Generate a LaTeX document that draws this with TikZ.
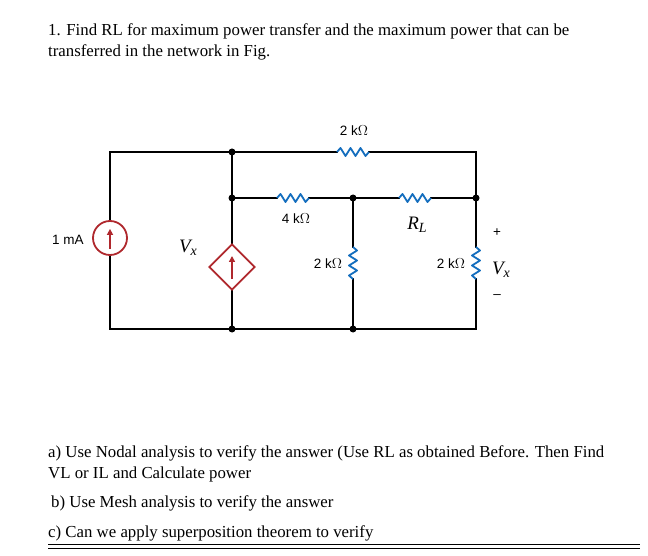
\documentclass[tikz,border=0pt]{standalone}
\usepackage{fontspec}
\setmainfont{Liberation Serif}
\newfontfamily\sansf{Liberation Sans}
\usetikzlibrary{shapes.geometric,arrows.meta}
\definecolor{resblue}{RGB}{20,110,190}
\definecolor{srcred}{RGB}{175,40,45}
\begin{document}
\begin{tikzpicture}[x=1pt,y=-1pt,
  wire/.style={line width=2.4pt,black},
  dot/.style={circle,fill=black,inner sep=0pt,minimum size=7pt},
  lbl/.style={font=\sansf\fontsize{13.5}{14}\selectfont,inner sep=1pt},
  var/.style={font=\fontsize{19}{19}\selectfont\itshape,inner sep=1pt},
  txt/.style={font=\fontsize{16.8}{19}\selectfont,anchor=base west,inner sep=0pt},
  res/.style={draw=resblue,line width=1.8pt,line join=round},
  src/.style={draw=srcred,line width=1.8pt,fill=white}]
\useasboundingbox (0,0) rectangle (648,556);
\node[txt] (t1) at (48,36) {1. Find RL for maximum power transfer and the maximum power that can be};
\node[txt] (t2) at (48,57) {transferred in the network in Fig.};
\node[txt] (ta) at (48,457) {a) Use Nodal analysis to verify the answer (Use RL as obtained Before. Then Find};
\node[txt] (tb) at (48,478) {VL or IL and Calculate power};
\node[txt] (tc) at (51,507) {b) Use Mesh analysis to verify the answer};
\node[txt] (td) at (48,537) {c) Can we apply superposition theorem to verify};
\coordinate (r1) at (48,544); \coordinate (r2) at (640,544);
\coordinate (r3) at (48,548); \coordinate (r4) at (640,548);
\draw[line width=0.9pt] (r1) -- (r2) (r3) -- (r4);
% nodes
\coordinate (TL) at (110,152); \coordinate (TA) at (232,152); \coordinate (TR) at (476,152);
\coordinate (MA) at (232,198); \coordinate (MB) at (353,198); \coordinate (MR) at (476,198);
\coordinate (BL) at (110,329); \coordinate (BA) at (232,329); \coordinate (BB) at (353,329); \coordinate (BR) at (476,329);
% wires
\draw[wire] (TR) -- (TL) -- (BL) -- (BR) -- cycle;
\draw[wire] (TA) -- (BA);
\draw[wire] (MA) -- (MR);
\draw[wire] (MB) -- (BB);
% horizontal resistors
\foreach \cx/\cy in {353/152,293/198,415/198}{
  \fill[white] (\cx-15,\cy-5) rectangle (\cx+15,\cy+5);
  \draw[res] (\cx-16,\cy) -- (\cx-12.5,\cy-4) -- (\cx-7.5,\cy+4) -- (\cx-2.5,\cy-4) -- (\cx+2.5,\cy+4) -- (\cx+7.5,\cy-4) -- (\cx+12.5,\cy+4) -- (\cx+16,\cy);
}
% vertical resistors
\foreach \cx/\cy in {353/263,476/263}{
  \fill[white] (\cx-5,\cy-15) rectangle (\cx+5,\cy+15);
  \draw[res] (\cx,\cy-16) -- (\cx+4,\cy-12.5) -- (\cx-4,\cy-7.5) -- (\cx+4,\cy-2.5) -- (\cx-4,\cy+2.5) -- (\cx+4,\cy+7.5) -- (\cx-4,\cy+12.5) -- (\cx,\cy+16);
}
% sources
\node[src,circle,minimum size=34pt,inner sep=0pt] (s1) at (110,238) {};
\draw[srcred,line width=1.8pt,-{Triangle[length=6pt,width=6pt]}] (s1.south) ++(0,-7) -- ++(0,-20);
\node[src,diamond,minimum size=46pt,inner sep=0pt] (s2) at (232,267) {};
\draw[srcred,line width=1.8pt,-{Triangle[length=6pt,width=6pt]}] (s2.center) ++(0,12) -- ++(0,-23);
\foreach \p in {TA,MA,MB,MR,BA,BB} \node[dot] at (\p) {};
% labels
\node[lbl] (l1) at (68,240) {1 mA};
\node[var] (lv) at (188,248) {V\raisebox{-0.35ex}{\fontsize{14}{14}\selectfont x}};
\node[lbl] (l2) at (354,131) {2 k$\Omega$};
\node[lbl] (l3) at (296,219) {4 k$\Omega$};
\node[var] (l4) at (417,225) {R\raisebox{-0.35ex}{\fontsize{14}{14}\selectfont L}};
\node[lbl] (l5) at (328,264) {2 k$\Omega$};
\node[lbl] (l6) at (451,264) {2 k$\Omega$};
\node[lbl] (lp) at (497,233) {+};
\node[var] (lvx) at (501,270) {V\raisebox{-0.35ex}{\fontsize{14}{14}\selectfont x}};
\node[lbl] (lm) at (497,297) {\textendash};
\end{tikzpicture}
\end{document}
